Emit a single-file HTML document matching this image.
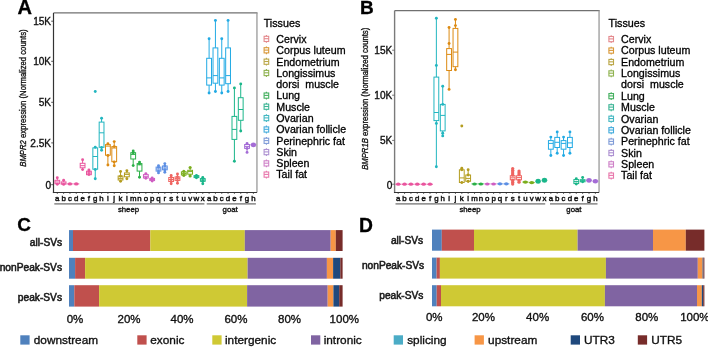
<!DOCTYPE html>
<html><head><meta charset="utf-8"><style>
html,body{margin:0;padding:0;background:#fff;width:708px;height:347px;overflow:hidden}
svg{display:block;font-family:"Liberation Sans",sans-serif;will-change:transform}
</style></head><body>
<svg width="708" height="347" viewBox="0 0 708 347" style="font-family:'Liberation Sans',sans-serif">
<rect width="708" height="347" fill="#fff"/>
<text x="17.4" y="13.95" font-size="19.8" text-anchor="start" font-weight="bold" font-style="normal" fill="#000" stroke="#000" stroke-width="0.3" textLength="14.5" lengthAdjust="spacingAndGlyphs" >A</text>
<line x1="53.5" y1="12.95" x2="257.55" y2="12.95" stroke="#707070" stroke-width="1.25"/>
<line x1="256.95" y1="12.95" x2="256.95" y2="192.45" stroke="#999" stroke-width="1.3"/>
<line x1="53.5" y1="12.95" x2="53.5" y2="193.04999999999998" stroke="#333" stroke-width="1.2"/>
<line x1="52.9" y1="192.45" x2="256.95" y2="192.45" stroke="#333" stroke-width="1.1"/>
<line x1="51.2" y1="21.2" x2="53.6" y2="21.2" stroke="#333" stroke-width="0.8"/>
<text x="51.1" y="24.95" font-size="10.1" text-anchor="end" font-weight="normal" font-style="normal" fill="#111" stroke="#111" stroke-width="0.35" >15K</text>
<line x1="51.2" y1="61.3" x2="53.6" y2="61.3" stroke="#333" stroke-width="0.8"/>
<text x="51.1" y="65.15" font-size="10.1" text-anchor="end" font-weight="normal" font-style="normal" fill="#111" stroke="#111" stroke-width="0.35" >10K</text>
<line x1="51.2" y1="102.3" x2="53.6" y2="102.3" stroke="#333" stroke-width="0.8"/>
<text x="51.1" y="106.45" font-size="10.1" text-anchor="end" font-weight="normal" font-style="normal" fill="#111" stroke="#111" stroke-width="0.35" >5K</text>
<line x1="51.2" y1="142.9" x2="53.6" y2="142.9" stroke="#333" stroke-width="0.8"/>
<text x="51.1" y="147.15" font-size="10.1" text-anchor="end" font-weight="normal" font-style="normal" fill="#111" stroke="#111" stroke-width="0.35" >2.5K</text>
<line x1="51.2" y1="184.7" x2="53.6" y2="184.7" stroke="#333" stroke-width="0.8"/>
<text x="51.1" y="189.15" font-size="10.1" text-anchor="end" font-weight="normal" font-style="normal" fill="#111" stroke="#111" stroke-width="0.35" >0</text>
<text transform="translate(25.8,98.1) rotate(-90)" font-size="8.3" text-anchor="middle" fill="#111" stroke="#111" stroke-width="0.32" textLength="137.3" lengthAdjust="spacingAndGlyphs"><tspan font-style="italic">BMPR2</tspan> expression (Normalized counts)</text>
<line x1="57.3" y1="177.7" x2="57.3" y2="180.3" stroke="#E9559E" stroke-width="1.0"/>
<line x1="57.3" y1="183.7" x2="57.3" y2="184.3" stroke="#E9559E" stroke-width="1.0"/>
<rect x="54.9" y="180.3" width="4.8" height="3.3999999999999773" fill="#fff" stroke="#E9559E" stroke-width="1.0"/>
<line x1="54.9" y1="182.0" x2="59.699999999999996" y2="182.0" stroke="#E9559E" stroke-width="1.0"/>
<circle cx="57.3" cy="177.7" r="1.45" fill="#E9559E"/>
<circle cx="57.3" cy="184.3" r="1.45" fill="#E9559E"/>
<line x1="63.625" y1="180.3" x2="63.625" y2="181.9" stroke="#E9559E" stroke-width="1.0"/>
<line x1="63.625" y1="184.2" x2="63.625" y2="184.4" stroke="#E9559E" stroke-width="1.0"/>
<rect x="61.225" y="181.9" width="4.8" height="2.299999999999983" fill="#fff" stroke="#E9559E" stroke-width="1.0"/>
<line x1="61.225" y1="183.2" x2="66.025" y2="183.2" stroke="#E9559E" stroke-width="1.0"/>
<circle cx="63.625" cy="180.3" r="1.45" fill="#E9559E"/>
<circle cx="63.625" cy="184.4" r="1.45" fill="#E9559E"/>
<line x1="66.95" y1="183.9" x2="72.95" y2="183.9" stroke="#E9559E" stroke-width="0.9"/>
<ellipse cx="69.95" cy="183.9" rx="2.2" ry="1.6" fill="#E9559E"/>
<line x1="73.275" y1="183.9" x2="79.275" y2="183.9" stroke="#E9559E" stroke-width="0.9"/>
<ellipse cx="76.275" cy="183.9" rx="2.2" ry="1.6" fill="#E9559E"/>
<line x1="82.6" y1="159.8" x2="82.6" y2="163.3" stroke="#E9559E" stroke-width="1.0"/>
<line x1="82.6" y1="167.8" x2="82.6" y2="169.6" stroke="#E9559E" stroke-width="1.0"/>
<rect x="80.19999999999999" y="163.3" width="4.8" height="4.5" fill="#fff" stroke="#E9559E" stroke-width="1.0"/>
<line x1="80.19999999999999" y1="165.7" x2="85.0" y2="165.7" stroke="#E9559E" stroke-width="1.0"/>
<circle cx="82.6" cy="159.8" r="1.45" fill="#E9559E"/>
<circle cx="82.6" cy="169.6" r="1.45" fill="#E9559E"/>
<line x1="88.925" y1="170.0" x2="88.925" y2="171.2" stroke="#E9559E" stroke-width="1.0"/>
<line x1="88.925" y1="174.7" x2="88.925" y2="175.2" stroke="#E9559E" stroke-width="1.0"/>
<rect x="86.52499999999999" y="171.2" width="4.8" height="3.5" fill="#fff" stroke="#E9559E" stroke-width="1.0"/>
<line x1="86.52499999999999" y1="173.0" x2="91.325" y2="173.0" stroke="#E9559E" stroke-width="1.0"/>
<circle cx="88.925" cy="170" r="1.45" fill="#E9559E"/>
<circle cx="88.925" cy="171.5" r="1.45" fill="#E9559E"/>
<circle cx="88.925" cy="174.5" r="1.45" fill="#E9559E"/>
<line x1="95.25" y1="147.0" x2="95.25" y2="147.9" stroke="#22B6C0" stroke-width="1.0"/>
<line x1="95.25" y1="169.2" x2="95.25" y2="178.7" stroke="#22B6C0" stroke-width="1.0"/>
<rect x="92.85" y="147.9" width="4.8" height="21.299999999999983" fill="#fff" stroke="#22B6C0" stroke-width="1.0"/>
<line x1="92.85" y1="156.5" x2="97.65" y2="156.5" stroke="#22B6C0" stroke-width="1.0"/>
<circle cx="95.25" cy="147.2" r="1.45" fill="#22B6C0"/>
<circle cx="95.25" cy="169.5" r="1.45" fill="#22B6C0"/>
<circle cx="95.25" cy="178.7" r="1.45" fill="#22B6C0"/>
<circle cx="95.25" cy="91.5" r="1.45" fill="#22B6C0"/>
<line x1="101.57499999999999" y1="118.3" x2="101.57499999999999" y2="122.1" stroke="#22B6C0" stroke-width="1.0"/>
<line x1="101.57499999999999" y1="147.3" x2="101.57499999999999" y2="150.5" stroke="#22B6C0" stroke-width="1.0"/>
<rect x="99.17499999999998" y="122.1" width="4.8" height="25.200000000000017" fill="#fff" stroke="#22B6C0" stroke-width="1.0"/>
<line x1="99.17499999999998" y1="132.8" x2="103.975" y2="132.8" stroke="#22B6C0" stroke-width="1.0"/>
<circle cx="101.57499999999999" cy="118.3" r="1.45" fill="#22B6C0"/>
<circle cx="101.57499999999999" cy="147.5" r="1.45" fill="#22B6C0"/>
<circle cx="101.57499999999999" cy="150.3" r="1.45" fill="#22B6C0"/>
<line x1="107.9" y1="143.8" x2="107.9" y2="144.6" stroke="#DC8A12" stroke-width="1.0"/>
<line x1="107.9" y1="155.2" x2="107.9" y2="165.0" stroke="#DC8A12" stroke-width="1.0"/>
<rect x="105.5" y="144.6" width="4.8" height="10.599999999999994" fill="#fff" stroke="#DC8A12" stroke-width="1.0"/>
<line x1="105.5" y1="146.1" x2="110.30000000000001" y2="146.1" stroke="#DC8A12" stroke-width="1.0"/>
<circle cx="107.9" cy="143.8" r="1.45" fill="#DC8A12"/>
<circle cx="107.9" cy="155.5" r="1.45" fill="#DC8A12"/>
<circle cx="107.9" cy="165" r="1.45" fill="#DC8A12"/>
<line x1="114.225" y1="141.6" x2="114.225" y2="146.6" stroke="#DC8A12" stroke-width="1.0"/>
<line x1="114.225" y1="161.7" x2="114.225" y2="165.7" stroke="#DC8A12" stroke-width="1.0"/>
<rect x="111.82499999999999" y="146.6" width="4.8" height="15.099999999999994" fill="#fff" stroke="#DC8A12" stroke-width="1.0"/>
<line x1="111.82499999999999" y1="148.0" x2="116.625" y2="148.0" stroke="#DC8A12" stroke-width="1.0"/>
<circle cx="114.225" cy="141.6" r="1.45" fill="#DC8A12"/>
<circle cx="114.225" cy="146.6" r="1.45" fill="#DC8A12"/>
<circle cx="114.225" cy="162" r="1.45" fill="#DC8A12"/>
<circle cx="114.225" cy="165.7" r="1.45" fill="#DC8A12"/>
<line x1="120.55" y1="171.5" x2="120.55" y2="176.0" stroke="#B49D20" stroke-width="1.0"/>
<line x1="120.55" y1="180.0" x2="120.55" y2="181.3" stroke="#B49D20" stroke-width="1.0"/>
<rect x="118.14999999999999" y="176.0" width="4.8" height="4.0" fill="#fff" stroke="#B49D20" stroke-width="1.0"/>
<line x1="118.14999999999999" y1="178.4" x2="122.95" y2="178.4" stroke="#B49D20" stroke-width="1.0"/>
<circle cx="120.55" cy="171.5" r="1.45" fill="#B49D20"/>
<circle cx="120.55" cy="176.3" r="1.45" fill="#B49D20"/>
<circle cx="120.55" cy="181.2" r="1.45" fill="#B49D20"/>
<line x1="126.875" y1="170.8" x2="126.875" y2="172.9" stroke="#B49D20" stroke-width="1.0"/>
<line x1="126.875" y1="176.8" x2="126.875" y2="178.8" stroke="#B49D20" stroke-width="1.0"/>
<rect x="124.475" y="172.9" width="4.8" height="3.9000000000000057" fill="#fff" stroke="#B49D20" stroke-width="1.0"/>
<line x1="124.475" y1="174.4" x2="129.275" y2="174.4" stroke="#B49D20" stroke-width="1.0"/>
<circle cx="126.875" cy="170.8" r="1.45" fill="#B49D20"/>
<circle cx="126.875" cy="178.8" r="1.45" fill="#B49D20"/>
<line x1="133.2" y1="151.0" x2="133.2" y2="152.7" stroke="#2AAF46" stroke-width="1.0"/>
<line x1="133.2" y1="159.0" x2="133.2" y2="165.6" stroke="#2AAF46" stroke-width="1.0"/>
<rect x="130.79999999999998" y="152.7" width="4.8" height="6.300000000000011" fill="#fff" stroke="#2AAF46" stroke-width="1.0"/>
<line x1="130.79999999999998" y1="154.4" x2="135.6" y2="154.4" stroke="#2AAF46" stroke-width="1.0"/>
<circle cx="133.2" cy="151" r="1.45" fill="#2AAF46"/>
<circle cx="133.2" cy="152.8" r="1.45" fill="#2AAF46"/>
<circle cx="133.2" cy="165.6" r="1.45" fill="#2AAF46"/>
<line x1="139.525" y1="162.1" x2="139.525" y2="163.6" stroke="#2AAF46" stroke-width="1.0"/>
<line x1="139.525" y1="171.1" x2="139.525" y2="177.2" stroke="#2AAF46" stroke-width="1.0"/>
<rect x="137.125" y="163.6" width="4.8" height="7.5" fill="#fff" stroke="#2AAF46" stroke-width="1.0"/>
<line x1="137.125" y1="164.8" x2="141.925" y2="164.8" stroke="#2AAF46" stroke-width="1.0"/>
<circle cx="139.525" cy="162.1" r="1.45" fill="#2AAF46"/>
<circle cx="139.525" cy="163.8" r="1.45" fill="#2AAF46"/>
<circle cx="139.525" cy="177.2" r="1.45" fill="#2AAF46"/>
<line x1="145.85" y1="173.6" x2="145.85" y2="174.6" stroke="#CF5DC2" stroke-width="1.0"/>
<line x1="145.85" y1="178.0" x2="145.85" y2="178.4" stroke="#CF5DC2" stroke-width="1.0"/>
<rect x="143.45" y="174.6" width="4.8" height="3.4000000000000057" fill="#fff" stroke="#CF5DC2" stroke-width="1.0"/>
<line x1="143.45" y1="176.3" x2="148.25" y2="176.3" stroke="#CF5DC2" stroke-width="1.0"/>
<circle cx="145.85" cy="173.6" r="1.45" fill="#CF5DC2"/>
<circle cx="145.85" cy="178.3" r="1.45" fill="#CF5DC2"/>
<line x1="152.175" y1="177.9" x2="152.175" y2="178.4" stroke="#CF5DC2" stroke-width="1.0"/>
<line x1="152.175" y1="180.6" x2="152.175" y2="181.3" stroke="#CF5DC2" stroke-width="1.0"/>
<rect x="149.775" y="178.4" width="4.8" height="2.1999999999999886" fill="#fff" stroke="#CF5DC2" stroke-width="1.0"/>
<line x1="149.775" y1="179.5" x2="154.57500000000002" y2="179.5" stroke="#CF5DC2" stroke-width="1.0"/>
<circle cx="152.175" cy="177.9" r="1.45" fill="#CF5DC2"/>
<circle cx="152.175" cy="181.1" r="1.45" fill="#CF5DC2"/>
<line x1="158.5" y1="165.6" x2="158.5" y2="167.1" stroke="#5C8FE4" stroke-width="1.0"/>
<line x1="158.5" y1="171.1" x2="158.5" y2="172.9" stroke="#5C8FE4" stroke-width="1.0"/>
<rect x="156.1" y="167.1" width="4.8" height="4.0" fill="#fff" stroke="#5C8FE4" stroke-width="1.0"/>
<line x1="156.1" y1="169.0" x2="160.9" y2="169.0" stroke="#5C8FE4" stroke-width="1.0"/>
<circle cx="158.5" cy="165.6" r="1.45" fill="#5C8FE4"/>
<circle cx="158.5" cy="167.2" r="1.45" fill="#5C8FE4"/>
<circle cx="158.5" cy="171" r="1.45" fill="#5C8FE4"/>
<circle cx="158.5" cy="172.9" r="1.45" fill="#5C8FE4"/>
<line x1="164.825" y1="163.6" x2="164.825" y2="166.0" stroke="#5C8FE4" stroke-width="1.0"/>
<line x1="164.825" y1="169.8" x2="164.825" y2="172.3" stroke="#5C8FE4" stroke-width="1.0"/>
<rect x="162.42499999999998" y="166.0" width="4.8" height="3.8000000000000114" fill="#fff" stroke="#5C8FE4" stroke-width="1.0"/>
<line x1="162.42499999999998" y1="168.0" x2="167.225" y2="168.0" stroke="#5C8FE4" stroke-width="1.0"/>
<circle cx="164.825" cy="163.6" r="1.45" fill="#5C8FE4"/>
<circle cx="164.825" cy="166" r="1.45" fill="#5C8FE4"/>
<circle cx="164.825" cy="169.8" r="1.45" fill="#5C8FE4"/>
<circle cx="164.825" cy="172.3" r="1.45" fill="#5C8FE4"/>
<line x1="171.15" y1="175.5" x2="171.15" y2="177.5" stroke="#EF6460" stroke-width="1.0"/>
<line x1="171.15" y1="181.5" x2="171.15" y2="183.8" stroke="#EF6460" stroke-width="1.0"/>
<rect x="168.75" y="177.5" width="4.8" height="4.0" fill="#fff" stroke="#EF6460" stroke-width="1.0"/>
<line x1="168.75" y1="179.5" x2="173.55" y2="179.5" stroke="#EF6460" stroke-width="1.0"/>
<circle cx="171.15" cy="175.5" r="1.45" fill="#EF6460"/>
<circle cx="171.15" cy="177.5" r="1.45" fill="#EF6460"/>
<circle cx="171.15" cy="181.5" r="1.45" fill="#EF6460"/>
<circle cx="171.15" cy="183.8" r="1.45" fill="#EF6460"/>
<line x1="177.475" y1="174.0" x2="177.475" y2="176.9" stroke="#EF6460" stroke-width="1.0"/>
<line x1="177.475" y1="180.4" x2="177.475" y2="183.2" stroke="#EF6460" stroke-width="1.0"/>
<rect x="175.075" y="176.9" width="4.8" height="3.5" fill="#fff" stroke="#EF6460" stroke-width="1.0"/>
<line x1="175.075" y1="178.6" x2="179.875" y2="178.6" stroke="#EF6460" stroke-width="1.0"/>
<circle cx="177.475" cy="174" r="1.45" fill="#EF6460"/>
<circle cx="177.475" cy="176.9" r="1.45" fill="#EF6460"/>
<circle cx="177.475" cy="180.4" r="1.45" fill="#EF6460"/>
<circle cx="177.475" cy="183.2" r="1.45" fill="#EF6460"/>
<line x1="183.8" y1="171.0" x2="183.8" y2="171.8" stroke="#7BAD1C" stroke-width="1.0"/>
<line x1="183.8" y1="175.0" x2="183.8" y2="175.6" stroke="#7BAD1C" stroke-width="1.0"/>
<rect x="181.4" y="171.8" width="4.8" height="3.1999999999999886" fill="#fff" stroke="#7BAD1C" stroke-width="1.0"/>
<line x1="181.4" y1="173.4" x2="186.20000000000002" y2="173.4" stroke="#7BAD1C" stroke-width="1.0"/>
<circle cx="183.8" cy="171.3" r="1.6" fill="#7BAD1C"/>
<circle cx="183.8" cy="175.3" r="1.6" fill="#7BAD1C"/>
<line x1="190.125" y1="167.5" x2="190.125" y2="170.3" stroke="#7BAD1C" stroke-width="1.0"/>
<line x1="190.125" y1="174.2" x2="190.125" y2="175.9" stroke="#7BAD1C" stroke-width="1.0"/>
<rect x="187.725" y="170.3" width="4.8" height="3.8999999999999773" fill="#fff" stroke="#7BAD1C" stroke-width="1.0"/>
<line x1="187.725" y1="171.6" x2="192.525" y2="171.6" stroke="#7BAD1C" stroke-width="1.0"/>
<circle cx="190.125" cy="167.5" r="1.6" fill="#7BAD1C"/>
<circle cx="190.125" cy="175.9" r="1.6" fill="#7BAD1C"/>
<line x1="196.45" y1="175.2" x2="196.45" y2="175.6" stroke="#1AB68A" stroke-width="1.0"/>
<line x1="196.45" y1="177.6" x2="196.45" y2="178.0" stroke="#1AB68A" stroke-width="1.0"/>
<rect x="194.04999999999998" y="175.6" width="4.8" height="2.0" fill="#fff" stroke="#1AB68A" stroke-width="1.0"/>
<line x1="194.04999999999998" y1="176.6" x2="198.85" y2="176.6" stroke="#1AB68A" stroke-width="1.0"/>
<circle cx="196.45" cy="175.4" r="1.45" fill="#1AB68A"/>
<circle cx="196.45" cy="177.8" r="1.45" fill="#1AB68A"/>
<line x1="202.77499999999998" y1="177.5" x2="202.77499999999998" y2="178.6" stroke="#1AB68A" stroke-width="1.0"/>
<line x1="202.77499999999998" y1="181.3" x2="202.77499999999998" y2="183.8" stroke="#1AB68A" stroke-width="1.0"/>
<rect x="200.37499999999997" y="178.6" width="4.8" height="2.700000000000017" fill="#fff" stroke="#1AB68A" stroke-width="1.0"/>
<line x1="200.37499999999997" y1="180.0" x2="205.17499999999998" y2="180.0" stroke="#1AB68A" stroke-width="1.0"/>
<circle cx="202.77499999999998" cy="177.5" r="1.45" fill="#1AB68A"/>
<circle cx="202.77499999999998" cy="178.6" r="1.45" fill="#1AB68A"/>
<circle cx="202.77499999999998" cy="181.3" r="1.45" fill="#1AB68A"/>
<circle cx="202.77499999999998" cy="183.8" r="1.45" fill="#1AB68A"/>
<line x1="209.10000000000002" y1="38.8" x2="209.10000000000002" y2="58.3" stroke="#22AAE4" stroke-width="1.0"/>
<line x1="209.10000000000002" y1="85.1" x2="209.10000000000002" y2="93.0" stroke="#22AAE4" stroke-width="1.0"/>
<rect x="206.70000000000002" y="58.3" width="4.8" height="26.799999999999997" fill="#fff" stroke="#22AAE4" stroke-width="1.0"/>
<line x1="206.70000000000002" y1="77.9" x2="211.50000000000003" y2="77.9" stroke="#22AAE4" stroke-width="1.0"/>
<circle cx="209.10000000000002" cy="38.8" r="1.45" fill="#22AAE4"/>
<circle cx="209.10000000000002" cy="93.0" r="1.45" fill="#22AAE4"/>
<line x1="215.425" y1="20.4" x2="215.425" y2="47.9" stroke="#22AAE4" stroke-width="1.0"/>
<line x1="215.425" y1="83.2" x2="215.425" y2="91.5" stroke="#22AAE4" stroke-width="1.0"/>
<rect x="213.025" y="47.9" width="4.8" height="35.300000000000004" fill="#fff" stroke="#22AAE4" stroke-width="1.0"/>
<line x1="213.025" y1="75.6" x2="217.82500000000002" y2="75.6" stroke="#22AAE4" stroke-width="1.0"/>
<circle cx="215.425" cy="20.4" r="1.45" fill="#22AAE4"/>
<circle cx="215.425" cy="91.5" r="1.45" fill="#22AAE4"/>
<line x1="221.75" y1="38.8" x2="221.75" y2="58.3" stroke="#22AAE4" stroke-width="1.0"/>
<line x1="221.75" y1="85.1" x2="221.75" y2="93.0" stroke="#22AAE4" stroke-width="1.0"/>
<rect x="219.35" y="58.3" width="4.8" height="26.799999999999997" fill="#fff" stroke="#22AAE4" stroke-width="1.0"/>
<line x1="219.35" y1="77.9" x2="224.15" y2="77.9" stroke="#22AAE4" stroke-width="1.0"/>
<circle cx="221.75" cy="38.8" r="1.45" fill="#22AAE4"/>
<circle cx="221.75" cy="93.0" r="1.45" fill="#22AAE4"/>
<line x1="228.075" y1="20.4" x2="228.075" y2="47.9" stroke="#22AAE4" stroke-width="1.0"/>
<line x1="228.075" y1="83.7" x2="228.075" y2="91.5" stroke="#22AAE4" stroke-width="1.0"/>
<rect x="225.67499999999998" y="47.9" width="4.8" height="35.800000000000004" fill="#fff" stroke="#22AAE4" stroke-width="1.0"/>
<line x1="225.67499999999998" y1="75.6" x2="230.475" y2="75.6" stroke="#22AAE4" stroke-width="1.0"/>
<circle cx="228.075" cy="20.4" r="1.45" fill="#22AAE4"/>
<circle cx="228.075" cy="91.5" r="1.45" fill="#22AAE4"/>
<line x1="234.39999999999998" y1="87.9" x2="234.39999999999998" y2="116.4" stroke="#1AB68A" stroke-width="1.0"/>
<line x1="234.39999999999998" y1="139.4" x2="234.39999999999998" y2="161.3" stroke="#1AB68A" stroke-width="1.0"/>
<rect x="231.99999999999997" y="116.4" width="4.8" height="23.0" fill="#fff" stroke="#1AB68A" stroke-width="1.0"/>
<line x1="231.99999999999997" y1="129.4" x2="236.79999999999998" y2="129.4" stroke="#1AB68A" stroke-width="1.0"/>
<circle cx="234.39999999999998" cy="87.9" r="1.45" fill="#1AB68A"/>
<circle cx="234.39999999999998" cy="161.3" r="1.45" fill="#1AB68A"/>
<line x1="240.72500000000002" y1="83.9" x2="240.72500000000002" y2="97.7" stroke="#1AB68A" stroke-width="1.0"/>
<line x1="240.72500000000002" y1="120.3" x2="240.72500000000002" y2="131.0" stroke="#1AB68A" stroke-width="1.0"/>
<rect x="238.32500000000002" y="97.7" width="4.8" height="22.599999999999994" fill="#fff" stroke="#1AB68A" stroke-width="1.0"/>
<line x1="238.32500000000002" y1="109.5" x2="243.12500000000003" y2="109.5" stroke="#1AB68A" stroke-width="1.0"/>
<circle cx="240.72500000000002" cy="83.9" r="1.45" fill="#1AB68A"/>
<circle cx="240.72500000000002" cy="131" r="1.45" fill="#1AB68A"/>
<line x1="247.05" y1="143.5" x2="247.05" y2="144.5" stroke="#A46CD6" stroke-width="1.0"/>
<line x1="247.05" y1="148.4" x2="247.05" y2="152.4" stroke="#A46CD6" stroke-width="1.0"/>
<rect x="244.65" y="144.5" width="4.8" height="3.9000000000000057" fill="#fff" stroke="#A46CD6" stroke-width="1.0"/>
<line x1="244.65" y1="146.4" x2="249.45000000000002" y2="146.4" stroke="#A46CD6" stroke-width="1.0"/>
<circle cx="247.05" cy="143.5" r="1.45" fill="#A46CD6"/>
<circle cx="247.05" cy="148.4" r="1.45" fill="#A46CD6"/>
<circle cx="247.05" cy="152.4" r="1.45" fill="#A46CD6"/>
<line x1="250.375" y1="144.8" x2="256.375" y2="144.8" stroke="#A46CD6" stroke-width="0.9"/>
<ellipse cx="253.375" cy="144.2" rx="2.5" ry="1.75" fill="#A46CD6"/>
<ellipse cx="253.375" cy="145.6" rx="2.5" ry="1.75" fill="#A46CD6"/>
<line x1="57.3" y1="192.3" x2="57.3" y2="193.9" stroke="#333" stroke-width="0.8"/>
<text x="57.3" y="200.9" font-size="7.9" text-anchor="middle" font-weight="normal" font-style="normal" fill="#111" stroke="#111" stroke-width="0.45" >a</text>
<line x1="63.625" y1="192.3" x2="63.625" y2="193.9" stroke="#333" stroke-width="0.8"/>
<text x="63.62" y="200.9" font-size="7.9" text-anchor="middle" font-weight="normal" font-style="normal" fill="#111" stroke="#111" stroke-width="0.45" >b</text>
<line x1="69.95" y1="192.3" x2="69.95" y2="193.9" stroke="#333" stroke-width="0.8"/>
<text x="69.95" y="200.9" font-size="7.9" text-anchor="middle" font-weight="normal" font-style="normal" fill="#111" stroke="#111" stroke-width="0.45" >c</text>
<line x1="76.275" y1="192.3" x2="76.275" y2="193.9" stroke="#333" stroke-width="0.8"/>
<text x="76.28" y="200.9" font-size="7.9" text-anchor="middle" font-weight="normal" font-style="normal" fill="#111" stroke="#111" stroke-width="0.45" >d</text>
<line x1="82.6" y1="192.3" x2="82.6" y2="193.9" stroke="#333" stroke-width="0.8"/>
<text x="82.6" y="200.9" font-size="7.9" text-anchor="middle" font-weight="normal" font-style="normal" fill="#111" stroke="#111" stroke-width="0.45" >e</text>
<line x1="88.925" y1="192.3" x2="88.925" y2="193.9" stroke="#333" stroke-width="0.8"/>
<text x="88.92" y="200.9" font-size="7.9" text-anchor="middle" font-weight="normal" font-style="normal" fill="#111" stroke="#111" stroke-width="0.45" >f</text>
<line x1="95.25" y1="192.3" x2="95.25" y2="193.9" stroke="#333" stroke-width="0.8"/>
<text x="95.25" y="200.9" font-size="7.9" text-anchor="middle" font-weight="normal" font-style="normal" fill="#111" stroke="#111" stroke-width="0.45" >g</text>
<line x1="101.57499999999999" y1="192.3" x2="101.57499999999999" y2="193.9" stroke="#333" stroke-width="0.8"/>
<text x="101.57" y="200.9" font-size="7.9" text-anchor="middle" font-weight="normal" font-style="normal" fill="#111" stroke="#111" stroke-width="0.45" >h</text>
<line x1="107.9" y1="192.3" x2="107.9" y2="193.9" stroke="#333" stroke-width="0.8"/>
<text x="107.9" y="200.9" font-size="7.9" text-anchor="middle" font-weight="normal" font-style="normal" fill="#111" stroke="#111" stroke-width="0.45" >i</text>
<line x1="114.225" y1="192.3" x2="114.225" y2="193.9" stroke="#333" stroke-width="0.8"/>
<text x="114.22" y="200.9" font-size="7.9" text-anchor="middle" font-weight="normal" font-style="normal" fill="#111" stroke="#111" stroke-width="0.45" >j</text>
<line x1="120.55" y1="192.3" x2="120.55" y2="193.9" stroke="#333" stroke-width="0.8"/>
<text x="120.55" y="200.9" font-size="7.9" text-anchor="middle" font-weight="normal" font-style="normal" fill="#111" stroke="#111" stroke-width="0.45" >k</text>
<line x1="126.875" y1="192.3" x2="126.875" y2="193.9" stroke="#333" stroke-width="0.8"/>
<text x="126.88" y="200.9" font-size="7.9" text-anchor="middle" font-weight="normal" font-style="normal" fill="#111" stroke="#111" stroke-width="0.45" >l</text>
<line x1="133.2" y1="192.3" x2="133.2" y2="193.9" stroke="#333" stroke-width="0.8"/>
<text x="133.2" y="200.9" font-size="7.9" text-anchor="middle" font-weight="normal" font-style="normal" fill="#111" stroke="#111" stroke-width="0.45" >m</text>
<line x1="139.525" y1="192.3" x2="139.525" y2="193.9" stroke="#333" stroke-width="0.8"/>
<text x="139.53" y="200.9" font-size="7.9" text-anchor="middle" font-weight="normal" font-style="normal" fill="#111" stroke="#111" stroke-width="0.45" >n</text>
<line x1="145.85" y1="192.3" x2="145.85" y2="193.9" stroke="#333" stroke-width="0.8"/>
<text x="145.85" y="200.9" font-size="7.9" text-anchor="middle" font-weight="normal" font-style="normal" fill="#111" stroke="#111" stroke-width="0.45" >o</text>
<line x1="152.175" y1="192.3" x2="152.175" y2="193.9" stroke="#333" stroke-width="0.8"/>
<text x="152.18" y="200.9" font-size="7.9" text-anchor="middle" font-weight="normal" font-style="normal" fill="#111" stroke="#111" stroke-width="0.45" >p</text>
<line x1="158.5" y1="192.3" x2="158.5" y2="193.9" stroke="#333" stroke-width="0.8"/>
<text x="158.5" y="200.9" font-size="7.9" text-anchor="middle" font-weight="normal" font-style="normal" fill="#111" stroke="#111" stroke-width="0.45" >q</text>
<line x1="164.825" y1="192.3" x2="164.825" y2="193.9" stroke="#333" stroke-width="0.8"/>
<text x="164.82" y="200.9" font-size="7.9" text-anchor="middle" font-weight="normal" font-style="normal" fill="#111" stroke="#111" stroke-width="0.45" >r</text>
<line x1="171.15" y1="192.3" x2="171.15" y2="193.9" stroke="#333" stroke-width="0.8"/>
<text x="171.15" y="200.9" font-size="7.9" text-anchor="middle" font-weight="normal" font-style="normal" fill="#111" stroke="#111" stroke-width="0.45" >s</text>
<line x1="177.475" y1="192.3" x2="177.475" y2="193.9" stroke="#333" stroke-width="0.8"/>
<text x="177.47" y="200.9" font-size="7.9" text-anchor="middle" font-weight="normal" font-style="normal" fill="#111" stroke="#111" stroke-width="0.45" >t</text>
<line x1="183.8" y1="192.3" x2="183.8" y2="193.9" stroke="#333" stroke-width="0.8"/>
<text x="183.8" y="200.9" font-size="7.9" text-anchor="middle" font-weight="normal" font-style="normal" fill="#111" stroke="#111" stroke-width="0.45" >u</text>
<line x1="190.125" y1="192.3" x2="190.125" y2="193.9" stroke="#333" stroke-width="0.8"/>
<text x="190.12" y="200.9" font-size="7.9" text-anchor="middle" font-weight="normal" font-style="normal" fill="#111" stroke="#111" stroke-width="0.45" >v</text>
<line x1="196.45" y1="192.3" x2="196.45" y2="193.9" stroke="#333" stroke-width="0.8"/>
<text x="196.45" y="200.9" font-size="7.9" text-anchor="middle" font-weight="normal" font-style="normal" fill="#111" stroke="#111" stroke-width="0.45" >w</text>
<line x1="202.77499999999998" y1="192.3" x2="202.77499999999998" y2="193.9" stroke="#333" stroke-width="0.8"/>
<text x="202.77" y="200.9" font-size="7.9" text-anchor="middle" font-weight="normal" font-style="normal" fill="#111" stroke="#111" stroke-width="0.45" >x</text>
<line x1="209.10000000000002" y1="192.3" x2="209.10000000000002" y2="193.9" stroke="#333" stroke-width="0.8"/>
<text x="209.1" y="200.9" font-size="7.9" text-anchor="middle" font-weight="normal" font-style="normal" fill="#111" stroke="#111" stroke-width="0.45" >a</text>
<line x1="215.425" y1="192.3" x2="215.425" y2="193.9" stroke="#333" stroke-width="0.8"/>
<text x="215.43" y="200.9" font-size="7.9" text-anchor="middle" font-weight="normal" font-style="normal" fill="#111" stroke="#111" stroke-width="0.45" >b</text>
<line x1="221.75" y1="192.3" x2="221.75" y2="193.9" stroke="#333" stroke-width="0.8"/>
<text x="221.75" y="200.9" font-size="7.9" text-anchor="middle" font-weight="normal" font-style="normal" fill="#111" stroke="#111" stroke-width="0.45" >c</text>
<line x1="228.075" y1="192.3" x2="228.075" y2="193.9" stroke="#333" stroke-width="0.8"/>
<text x="228.07" y="200.9" font-size="7.9" text-anchor="middle" font-weight="normal" font-style="normal" fill="#111" stroke="#111" stroke-width="0.45" >d</text>
<line x1="234.39999999999998" y1="192.3" x2="234.39999999999998" y2="193.9" stroke="#333" stroke-width="0.8"/>
<text x="234.4" y="200.9" font-size="7.9" text-anchor="middle" font-weight="normal" font-style="normal" fill="#111" stroke="#111" stroke-width="0.45" >e</text>
<line x1="240.72500000000002" y1="192.3" x2="240.72500000000002" y2="193.9" stroke="#333" stroke-width="0.8"/>
<text x="240.73" y="200.9" font-size="7.9" text-anchor="middle" font-weight="normal" font-style="normal" fill="#111" stroke="#111" stroke-width="0.45" >f</text>
<line x1="247.05" y1="192.3" x2="247.05" y2="193.9" stroke="#333" stroke-width="0.8"/>
<text x="247.05" y="200.9" font-size="7.9" text-anchor="middle" font-weight="normal" font-style="normal" fill="#111" stroke="#111" stroke-width="0.45" >g</text>
<line x1="253.375" y1="192.3" x2="253.375" y2="193.9" stroke="#333" stroke-width="0.8"/>
<text x="253.38" y="200.9" font-size="7.9" text-anchor="middle" font-weight="normal" font-style="normal" fill="#111" stroke="#111" stroke-width="0.45" >h</text>
<rect x="54.3" y="203" width="150.10000000000002" height="1.7" fill="#959595"/>
<rect x="206.7" y="203" width="49.20000000000002" height="1.7" fill="#959595"/>
<text x="128.5" y="212.1" font-size="7.8" text-anchor="middle" font-weight="normal" font-style="normal" fill="#111" stroke="#111" stroke-width="0.35" >sheep</text>
<text x="230.2" y="212.1" font-size="7.8" text-anchor="middle" font-weight="normal" font-style="normal" fill="#111" stroke="#111" stroke-width="0.35" >goat</text>
<text x="263.7" y="27.2" font-size="10.7" text-anchor="start" font-weight="normal" font-style="normal" fill="#000" stroke="#000" stroke-width="0.3" textLength="36.6" lengthAdjust="spacingAndGlyphs" >Tissues</text>
<text x="276.3" y="42.7" font-size="10.65" text-anchor="start" font-weight="normal" font-style="normal" fill="#000" stroke="#000" stroke-width="0.3" >Cervix</text>
<line x1="266.4" y1="35.00000000000001" x2="266.4" y2="42.800000000000004" stroke="#E48A8E" stroke-width="1.1"/>
<rect x="264.09999999999997" y="36.300000000000004" width="4.6" height="5.2" fill="#fff" stroke="#E48A8E" stroke-width="1.1"/>
<line x1="264.09999999999997" y1="38.7" x2="268.7" y2="38.7" stroke="#E48A8E" stroke-width="1.1"/>
<text x="276.3" y="54.1" font-size="10.65" text-anchor="start" font-weight="normal" font-style="normal" fill="#000" stroke="#000" stroke-width="0.3" >Corpus luteum</text>
<line x1="266.4" y1="46.400000000000006" x2="266.4" y2="54.2" stroke="#D99838" stroke-width="1.1"/>
<rect x="264.09999999999997" y="47.7" width="4.6" height="5.2" fill="#fff" stroke="#D99838" stroke-width="1.1"/>
<line x1="264.09999999999997" y1="50.1" x2="268.7" y2="50.1" stroke="#D99838" stroke-width="1.1"/>
<text x="276.3" y="65.5" font-size="10.65" text-anchor="start" font-weight="normal" font-style="normal" fill="#000" stroke="#000" stroke-width="0.3" >Endometrium</text>
<line x1="266.4" y1="57.800000000000004" x2="266.4" y2="65.60000000000001" stroke="#BBA748" stroke-width="1.1"/>
<rect x="264.09999999999997" y="59.1" width="4.6" height="5.2" fill="#fff" stroke="#BBA748" stroke-width="1.1"/>
<line x1="264.09999999999997" y1="61.5" x2="268.7" y2="61.5" stroke="#BBA748" stroke-width="1.1"/>
<text x="276.3" y="76.8" font-size="10.65" text-anchor="start" font-weight="normal" font-style="normal" fill="#000" stroke="#000" stroke-width="0.3" >Longissimus</text>
<line x1="266.4" y1="69.1" x2="266.4" y2="76.9" stroke="#90B352" stroke-width="1.1"/>
<rect x="264.09999999999997" y="70.4" width="4.6" height="5.2" fill="#fff" stroke="#90B352" stroke-width="1.1"/>
<line x1="264.09999999999997" y1="72.8" x2="268.7" y2="72.8" stroke="#90B352" stroke-width="1.1"/>
<text x="276.3" y="99.4" font-size="10.65" text-anchor="start" font-weight="normal" font-style="normal" fill="#000" stroke="#000" stroke-width="0.3" >Lung</text>
<line x1="266.4" y1="91.7" x2="266.4" y2="99.50000000000001" stroke="#46B060" stroke-width="1.1"/>
<rect x="264.09999999999997" y="93.00000000000001" width="4.6" height="5.2" fill="#fff" stroke="#46B060" stroke-width="1.1"/>
<line x1="264.09999999999997" y1="95.4" x2="268.7" y2="95.4" stroke="#46B060" stroke-width="1.1"/>
<text x="276.3" y="110.5" font-size="10.65" text-anchor="start" font-weight="normal" font-style="normal" fill="#000" stroke="#000" stroke-width="0.3" >Muscle</text>
<line x1="266.4" y1="102.8" x2="266.4" y2="110.60000000000001" stroke="#3EB596" stroke-width="1.1"/>
<rect x="264.09999999999997" y="104.10000000000001" width="4.6" height="5.2" fill="#fff" stroke="#3EB596" stroke-width="1.1"/>
<line x1="264.09999999999997" y1="106.5" x2="268.7" y2="106.5" stroke="#3EB596" stroke-width="1.1"/>
<text x="276.3" y="121.9" font-size="10.65" text-anchor="start" font-weight="normal" font-style="normal" fill="#000" stroke="#000" stroke-width="0.3" >Ovarian</text>
<line x1="266.4" y1="114.2" x2="266.4" y2="122.00000000000001" stroke="#45B8C2" stroke-width="1.1"/>
<rect x="264.09999999999997" y="115.50000000000001" width="4.6" height="5.2" fill="#fff" stroke="#45B8C2" stroke-width="1.1"/>
<line x1="264.09999999999997" y1="117.9" x2="268.7" y2="117.9" stroke="#45B8C2" stroke-width="1.1"/>
<text x="276.3" y="133.3" font-size="10.65" text-anchor="start" font-weight="normal" font-style="normal" fill="#000" stroke="#000" stroke-width="0.3" >Ovarian follicle</text>
<line x1="266.4" y1="125.6" x2="266.4" y2="133.4" stroke="#44ACDC" stroke-width="1.1"/>
<rect x="264.09999999999997" y="126.9" width="4.6" height="5.2" fill="#fff" stroke="#44ACDC" stroke-width="1.1"/>
<line x1="264.09999999999997" y1="129.3" x2="268.7" y2="129.3" stroke="#44ACDC" stroke-width="1.1"/>
<text x="276.3" y="144.6" font-size="10.65" text-anchor="start" font-weight="normal" font-style="normal" fill="#000" stroke="#000" stroke-width="0.3" >Perinephric fat</text>
<line x1="266.4" y1="136.89999999999998" x2="266.4" y2="144.7" stroke="#809CD8" stroke-width="1.1"/>
<rect x="264.09999999999997" y="138.2" width="4.6" height="5.2" fill="#fff" stroke="#809CD8" stroke-width="1.1"/>
<line x1="264.09999999999997" y1="140.6" x2="268.7" y2="140.6" stroke="#809CD8" stroke-width="1.1"/>
<text x="276.3" y="155.9" font-size="10.65" text-anchor="start" font-weight="normal" font-style="normal" fill="#000" stroke="#000" stroke-width="0.3" >Skin</text>
<line x1="266.4" y1="148.2" x2="266.4" y2="156.0" stroke="#AE92D2" stroke-width="1.1"/>
<rect x="264.09999999999997" y="149.5" width="4.6" height="5.2" fill="#fff" stroke="#AE92D2" stroke-width="1.1"/>
<line x1="264.09999999999997" y1="151.9" x2="268.7" y2="151.9" stroke="#AE92D2" stroke-width="1.1"/>
<text x="276.3" y="167.2" font-size="10.65" text-anchor="start" font-weight="normal" font-style="normal" fill="#000" stroke="#000" stroke-width="0.3" >Spleen</text>
<line x1="266.4" y1="159.49999999999997" x2="266.4" y2="167.29999999999998" stroke="#CF82C8" stroke-width="1.1"/>
<rect x="264.09999999999997" y="160.79999999999998" width="4.6" height="5.2" fill="#fff" stroke="#CF82C8" stroke-width="1.1"/>
<line x1="264.09999999999997" y1="163.2" x2="268.7" y2="163.2" stroke="#CF82C8" stroke-width="1.1"/>
<text x="276.3" y="178.4" font-size="10.65" text-anchor="start" font-weight="normal" font-style="normal" fill="#000" stroke="#000" stroke-width="0.3" >Tail fat</text>
<line x1="266.4" y1="170.7" x2="266.4" y2="178.5" stroke="#E878AC" stroke-width="1.1"/>
<rect x="264.09999999999997" y="172.0" width="4.6" height="5.2" fill="#fff" stroke="#E878AC" stroke-width="1.1"/>
<line x1="264.09999999999997" y1="174.4" x2="268.7" y2="174.4" stroke="#E878AC" stroke-width="1.1"/>
<text x="276.3" y="87.9" font-size="10.65" text-anchor="start" font-weight="normal" font-style="normal" fill="#000" stroke="#000" stroke-width="0.3" >dorsi&#160; muscle</text>
<text x="359.9" y="13.6" font-size="19" text-anchor="start" font-weight="bold" font-style="normal" fill="#000" stroke="#000" stroke-width="0.3" >B</text>
<line x1="394.6" y1="10.6" x2="599.65" y2="10.6" stroke="#707070" stroke-width="1.25"/>
<line x1="599.05" y1="10.6" x2="599.05" y2="192.45" stroke="#999" stroke-width="1.3"/>
<line x1="394.6" y1="10.6" x2="394.6" y2="193.04999999999998" stroke="#7a7a7a" stroke-width="1.4"/>
<line x1="394.0" y1="192.45" x2="599.05" y2="192.45" stroke="#333" stroke-width="1.1"/>
<line x1="392.1" y1="50.2" x2="394.5" y2="50.2" stroke="#555" stroke-width="0.8"/>
<text x="392.3" y="53.95" font-size="10.1" text-anchor="end" font-weight="normal" font-style="normal" fill="#111" stroke="#111" stroke-width="0.35" >15K</text>
<line x1="392.1" y1="95.2" x2="394.5" y2="95.2" stroke="#555" stroke-width="0.8"/>
<text x="392.3" y="98.95" font-size="10.1" text-anchor="end" font-weight="normal" font-style="normal" fill="#111" stroke="#111" stroke-width="0.35" >10K</text>
<line x1="392.1" y1="140.4" x2="394.5" y2="140.4" stroke="#555" stroke-width="0.8"/>
<text x="392.3" y="144.15" font-size="10.1" text-anchor="end" font-weight="normal" font-style="normal" fill="#111" stroke="#111" stroke-width="0.35" >5K</text>
<line x1="392.1" y1="184.2" x2="394.5" y2="184.2" stroke="#555" stroke-width="0.8"/>
<text x="392.3" y="188.65" font-size="10.1" text-anchor="end" font-weight="normal" font-style="normal" fill="#111" stroke="#111" stroke-width="0.35" >0</text>
<text transform="translate(368.2,98.8) rotate(-90)" font-size="8.2" text-anchor="middle" fill="#111" stroke="#111" stroke-width="0.32" textLength="142.1" lengthAdjust="spacingAndGlyphs"><tspan font-style="italic">BMPR1B</tspan> expression (Normalized counts)</text>
<line x1="395.2" y1="184.2" x2="401.2" y2="184.2" stroke="#E9559E" stroke-width="0.9"/>
<ellipse cx="398.2" cy="184.2" rx="2.2" ry="1.6" fill="#E9559E"/>
<line x1="401.56" y1="184.2" x2="407.56" y2="184.2" stroke="#E9559E" stroke-width="0.9"/>
<ellipse cx="404.56" cy="184.2" rx="2.2" ry="1.6" fill="#E9559E"/>
<line x1="407.92" y1="184.2" x2="413.92" y2="184.2" stroke="#E9559E" stroke-width="0.9"/>
<ellipse cx="410.92" cy="184.2" rx="2.2" ry="1.6" fill="#E9559E"/>
<line x1="414.28" y1="184.2" x2="420.28" y2="184.2" stroke="#E9559E" stroke-width="0.9"/>
<ellipse cx="417.28" cy="184.2" rx="2.2" ry="1.6" fill="#E9559E"/>
<line x1="420.64" y1="184.2" x2="426.64" y2="184.2" stroke="#E9559E" stroke-width="0.9"/>
<ellipse cx="423.64" cy="184.2" rx="2.2" ry="1.6" fill="#E9559E"/>
<line x1="427.0" y1="184.2" x2="433.0" y2="184.2" stroke="#E9559E" stroke-width="0.9"/>
<ellipse cx="430.0" cy="184.2" rx="2.2" ry="1.6" fill="#E9559E"/>
<line x1="436.36" y1="18.3" x2="436.36" y2="77.1" stroke="#22B6C0" stroke-width="1.0"/>
<line x1="436.36" y1="120.6" x2="436.36" y2="166.7" stroke="#22B6C0" stroke-width="1.0"/>
<rect x="433.96000000000004" y="77.1" width="4.8" height="43.5" fill="#fff" stroke="#22B6C0" stroke-width="1.0"/>
<line x1="433.96000000000004" y1="112.5" x2="438.76" y2="112.5" stroke="#22B6C0" stroke-width="1.0"/>
<circle cx="436.36" cy="18.3" r="1.45" fill="#22B6C0"/>
<circle cx="436.36" cy="65.4" r="1.45" fill="#22B6C0"/>
<circle cx="436.36" cy="123.4" r="1.45" fill="#22B6C0"/>
<circle cx="436.36" cy="166.7" r="1.45" fill="#22B6C0"/>
<line x1="442.71999999999997" y1="86.3" x2="442.71999999999997" y2="104.4" stroke="#22B6C0" stroke-width="1.0"/>
<line x1="442.71999999999997" y1="130.9" x2="442.71999999999997" y2="135.9" stroke="#22B6C0" stroke-width="1.0"/>
<rect x="440.32" y="104.4" width="4.8" height="26.5" fill="#fff" stroke="#22B6C0" stroke-width="1.0"/>
<line x1="440.32" y1="115.4" x2="445.11999999999995" y2="115.4" stroke="#22B6C0" stroke-width="1.0"/>
<circle cx="442.71999999999997" cy="86.3" r="1.45" fill="#22B6C0"/>
<circle cx="442.71999999999997" cy="104.4" r="1.45" fill="#22B6C0"/>
<circle cx="442.71999999999997" cy="133.2" r="1.45" fill="#22B6C0"/>
<circle cx="442.71999999999997" cy="135.9" r="1.45" fill="#22B6C0"/>
<line x1="449.08" y1="27.5" x2="449.08" y2="48.6" stroke="#DC8A12" stroke-width="1.0"/>
<line x1="449.08" y1="70.5" x2="449.08" y2="89.4" stroke="#DC8A12" stroke-width="1.0"/>
<rect x="446.68" y="48.6" width="4.8" height="21.9" fill="#fff" stroke="#DC8A12" stroke-width="1.0"/>
<line x1="446.68" y1="54.4" x2="451.47999999999996" y2="54.4" stroke="#DC8A12" stroke-width="1.0"/>
<circle cx="449.08" cy="27.5" r="1.45" fill="#DC8A12"/>
<circle cx="449.08" cy="43.5" r="1.45" fill="#DC8A12"/>
<circle cx="449.08" cy="89.4" r="1.45" fill="#DC8A12"/>
<line x1="455.44" y1="19.5" x2="455.44" y2="28.4" stroke="#DC8A12" stroke-width="1.0"/>
<line x1="455.44" y1="66.7" x2="455.44" y2="69.7" stroke="#DC8A12" stroke-width="1.0"/>
<rect x="453.04" y="28.4" width="4.8" height="38.300000000000004" fill="#fff" stroke="#DC8A12" stroke-width="1.0"/>
<line x1="453.04" y1="52.1" x2="457.84" y2="52.1" stroke="#DC8A12" stroke-width="1.0"/>
<circle cx="455.44" cy="19.5" r="1.45" fill="#DC8A12"/>
<circle cx="455.44" cy="25.6" r="1.45" fill="#DC8A12"/>
<circle cx="455.44" cy="69.7" r="1.45" fill="#DC8A12"/>
<line x1="461.8" y1="168.3" x2="461.8" y2="169.8" stroke="#B49D20" stroke-width="1.0"/>
<line x1="461.8" y1="182.5" x2="461.8" y2="183.5" stroke="#B49D20" stroke-width="1.0"/>
<rect x="459.40000000000003" y="169.8" width="4.8" height="12.699999999999989" fill="#fff" stroke="#B49D20" stroke-width="1.0"/>
<line x1="459.40000000000003" y1="177.9" x2="464.2" y2="177.9" stroke="#B49D20" stroke-width="1.0"/>
<circle cx="461.8" cy="168.3" r="1.45" fill="#B49D20"/>
<circle cx="461.8" cy="169.8" r="1.45" fill="#B49D20"/>
<circle cx="461.8" cy="182.5" r="1.45" fill="#B49D20"/>
<circle cx="461.8" cy="126.0" r="1.45" fill="#B49D20"/>
<line x1="468.15999999999997" y1="169.8" x2="468.15999999999997" y2="175.0" stroke="#B49D20" stroke-width="1.0"/>
<line x1="468.15999999999997" y1="181.3" x2="468.15999999999997" y2="183.0" stroke="#B49D20" stroke-width="1.0"/>
<rect x="465.76" y="175.0" width="4.8" height="6.300000000000011" fill="#fff" stroke="#B49D20" stroke-width="1.0"/>
<line x1="465.76" y1="178.4" x2="470.55999999999995" y2="178.4" stroke="#B49D20" stroke-width="1.0"/>
<circle cx="468.15999999999997" cy="169.8" r="1.45" fill="#B49D20"/>
<circle cx="468.15999999999997" cy="175" r="1.45" fill="#B49D20"/>
<circle cx="468.15999999999997" cy="181.3" r="1.45" fill="#B49D20"/>
<line x1="471.52" y1="183.9" x2="477.52" y2="183.9" stroke="#2AAF46" stroke-width="0.9"/>
<ellipse cx="474.52" cy="184" rx="2.2" ry="1.6" fill="#2AAF46"/>
<line x1="477.88" y1="183.9" x2="483.88" y2="183.9" stroke="#2AAF46" stroke-width="0.9"/>
<ellipse cx="480.88" cy="184" rx="2.2" ry="1.6" fill="#2AAF46"/>
<line x1="484.24" y1="183.9" x2="490.24" y2="183.9" stroke="#CF5DC2" stroke-width="0.9"/>
<ellipse cx="487.24" cy="184" rx="2.2" ry="1.6" fill="#CF5DC2"/>
<line x1="490.6" y1="183.9" x2="496.6" y2="183.9" stroke="#CF5DC2" stroke-width="0.9"/>
<ellipse cx="493.6" cy="184" rx="2.2" ry="1.6" fill="#CF5DC2"/>
<line x1="496.96" y1="183.9" x2="502.96" y2="183.9" stroke="#5C8FE4" stroke-width="0.9"/>
<ellipse cx="499.96" cy="183.8" rx="2.2" ry="1.6" fill="#5C8FE4"/>
<line x1="503.32" y1="183.9" x2="509.32" y2="183.9" stroke="#5C8FE4" stroke-width="0.9"/>
<ellipse cx="506.32" cy="183.8" rx="2.2" ry="1.6" fill="#5C8FE4"/>
<line x1="512.68" y1="168.6" x2="512.68" y2="175.7" stroke="#EF6460" stroke-width="1.0"/>
<line x1="512.68" y1="179.8" x2="512.68" y2="184.4" stroke="#EF6460" stroke-width="1.0"/>
<rect x="510.28" y="175.7" width="4.8" height="4.100000000000023" fill="#fff" stroke="#EF6460" stroke-width="1.0"/>
<line x1="510.28" y1="177.8" x2="515.0799999999999" y2="177.8" stroke="#EF6460" stroke-width="1.0"/>
<circle cx="512.68" cy="168.6" r="1.65" fill="#EF6460"/>
<circle cx="512.68" cy="170.3" r="1.65" fill="#EF6460"/>
<circle cx="512.68" cy="172.0" r="1.65" fill="#EF6460"/>
<circle cx="512.68" cy="173.7" r="1.65" fill="#EF6460"/>
<circle cx="512.68" cy="175.2" r="1.65" fill="#EF6460"/>
<circle cx="512.68" cy="180.4" r="1.65" fill="#EF6460"/>
<circle cx="512.68" cy="182.2" r="1.65" fill="#EF6460"/>
<circle cx="512.68" cy="184.0" r="1.65" fill="#EF6460"/>
<line x1="519.04" y1="171.1" x2="519.04" y2="175.7" stroke="#EF6460" stroke-width="1.0"/>
<line x1="519.04" y1="179.8" x2="519.04" y2="182.4" stroke="#EF6460" stroke-width="1.0"/>
<rect x="516.64" y="175.7" width="4.8" height="4.100000000000023" fill="#fff" stroke="#EF6460" stroke-width="1.0"/>
<line x1="516.64" y1="177.6" x2="521.4399999999999" y2="177.6" stroke="#EF6460" stroke-width="1.0"/>
<circle cx="519.04" cy="171.1" r="1.65" fill="#EF6460"/>
<circle cx="519.04" cy="172.8" r="1.65" fill="#EF6460"/>
<circle cx="519.04" cy="174.5" r="1.65" fill="#EF6460"/>
<circle cx="519.04" cy="180.5" r="1.65" fill="#EF6460"/>
<circle cx="519.04" cy="182.2" r="1.65" fill="#EF6460"/>
<line x1="522.4" y1="182.1" x2="528.4" y2="182.1" stroke="#7BAD1C" stroke-width="0.9"/>
<ellipse cx="525.4" cy="182.1" rx="2.5" ry="1.7" fill="#7BAD1C"/>
<line x1="528.76" y1="182.6" x2="534.76" y2="182.6" stroke="#7BAD1C" stroke-width="0.9"/>
<ellipse cx="531.76" cy="182.6" rx="2.5" ry="1.7" fill="#7BAD1C"/>
<line x1="535.12" y1="181.3" x2="541.12" y2="181.3" stroke="#1AB68A" stroke-width="0.9"/>
<ellipse cx="538.12" cy="180.5" rx="2.6" ry="1.75" fill="#1AB68A"/>
<ellipse cx="538.12" cy="182.1" rx="2.6" ry="1.75" fill="#1AB68A"/>
<line x1="541.48" y1="180.3" x2="547.48" y2="180.3" stroke="#1AB68A" stroke-width="0.9"/>
<ellipse cx="544.48" cy="179.5" rx="2.6" ry="1.75" fill="#1AB68A"/>
<ellipse cx="544.48" cy="181.1" rx="2.6" ry="1.75" fill="#1AB68A"/>
<line x1="550.84" y1="137.1" x2="550.84" y2="140.6" stroke="#22AAE4" stroke-width="1.0"/>
<line x1="550.84" y1="149.2" x2="550.84" y2="155.5" stroke="#22AAE4" stroke-width="1.0"/>
<rect x="548.44" y="140.6" width="4.8" height="8.599999999999994" fill="#fff" stroke="#22AAE4" stroke-width="1.0"/>
<line x1="548.44" y1="143.4" x2="553.24" y2="143.4" stroke="#22AAE4" stroke-width="1.0"/>
<circle cx="550.84" cy="137.1" r="1.45" fill="#22AAE4"/>
<circle cx="550.84" cy="155.5" r="1.45" fill="#22AAE4"/>
<line x1="557.2" y1="131.9" x2="557.2" y2="137.4" stroke="#22AAE4" stroke-width="1.0"/>
<line x1="557.2" y1="147.5" x2="557.2" y2="153.2" stroke="#22AAE4" stroke-width="1.0"/>
<rect x="554.8000000000001" y="137.4" width="4.8" height="10.099999999999994" fill="#fff" stroke="#22AAE4" stroke-width="1.0"/>
<line x1="554.8000000000001" y1="142.3" x2="559.6" y2="142.3" stroke="#22AAE4" stroke-width="1.0"/>
<circle cx="557.2" cy="131.9" r="1.45" fill="#22AAE4"/>
<circle cx="557.2" cy="153.2" r="1.45" fill="#22AAE4"/>
<line x1="563.56" y1="137.1" x2="563.56" y2="140.6" stroke="#22AAE4" stroke-width="1.0"/>
<line x1="563.56" y1="149.2" x2="563.56" y2="155.5" stroke="#22AAE4" stroke-width="1.0"/>
<rect x="561.16" y="140.6" width="4.8" height="8.599999999999994" fill="#fff" stroke="#22AAE4" stroke-width="1.0"/>
<line x1="561.16" y1="143.4" x2="565.9599999999999" y2="143.4" stroke="#22AAE4" stroke-width="1.0"/>
<circle cx="563.56" cy="137.1" r="1.45" fill="#22AAE4"/>
<circle cx="563.56" cy="155.5" r="1.45" fill="#22AAE4"/>
<line x1="569.92" y1="131.9" x2="569.92" y2="137.4" stroke="#22AAE4" stroke-width="1.0"/>
<line x1="569.92" y1="147.5" x2="569.92" y2="153.2" stroke="#22AAE4" stroke-width="1.0"/>
<rect x="567.52" y="137.4" width="4.8" height="10.099999999999994" fill="#fff" stroke="#22AAE4" stroke-width="1.0"/>
<line x1="567.52" y1="142.9" x2="572.3199999999999" y2="142.9" stroke="#22AAE4" stroke-width="1.0"/>
<circle cx="569.92" cy="131.9" r="1.45" fill="#22AAE4"/>
<circle cx="569.92" cy="153.2" r="1.45" fill="#22AAE4"/>
<line x1="576.28" y1="178.8" x2="576.28" y2="179.6" stroke="#1AB68A" stroke-width="1.0"/>
<line x1="576.28" y1="183.6" x2="576.28" y2="184.0" stroke="#1AB68A" stroke-width="1.0"/>
<rect x="573.88" y="179.6" width="4.8" height="4.0" fill="#fff" stroke="#1AB68A" stroke-width="1.0"/>
<line x1="573.88" y1="181.6" x2="578.68" y2="181.6" stroke="#1AB68A" stroke-width="1.0"/>
<circle cx="576.28" cy="178.8" r="1.45" fill="#1AB68A"/>
<circle cx="576.28" cy="184" r="1.45" fill="#1AB68A"/>
<line x1="582.64" y1="177.5" x2="582.64" y2="179.7" stroke="#1AB68A" stroke-width="1.0"/>
<line x1="582.64" y1="181.8" x2="582.64" y2="182.0" stroke="#1AB68A" stroke-width="1.0"/>
<rect x="580.24" y="179.7" width="4.8" height="2.1000000000000227" fill="#fff" stroke="#1AB68A" stroke-width="1.0"/>
<line x1="580.24" y1="180.7" x2="585.04" y2="180.7" stroke="#1AB68A" stroke-width="1.0"/>
<circle cx="582.64" cy="177.5" r="1.45" fill="#1AB68A"/>
<circle cx="582.64" cy="181.8" r="1.45" fill="#1AB68A"/>
<line x1="586.0" y1="180.3" x2="592.0" y2="180.3" stroke="#A46CD6" stroke-width="0.9"/>
<ellipse cx="589.0" cy="179.7" rx="2.7" ry="1.75" fill="#A46CD6"/>
<ellipse cx="589.0" cy="180.9" rx="2.7" ry="1.75" fill="#A46CD6"/>
<line x1="592.36" y1="181.2" x2="598.36" y2="181.2" stroke="#A46CD6" stroke-width="0.9"/>
<ellipse cx="595.36" cy="180.6" rx="2.6" ry="1.7" fill="#A46CD6"/>
<ellipse cx="595.36" cy="181.8" rx="2.6" ry="1.7" fill="#A46CD6"/>
<line x1="398.2" y1="192.3" x2="398.2" y2="193.9" stroke="#333" stroke-width="0.8"/>
<text x="398.2" y="200.9" font-size="7.9" text-anchor="middle" font-weight="normal" font-style="normal" fill="#111" stroke="#111" stroke-width="0.45" >a</text>
<line x1="404.56" y1="192.3" x2="404.56" y2="193.9" stroke="#333" stroke-width="0.8"/>
<text x="404.56" y="200.9" font-size="7.9" text-anchor="middle" font-weight="normal" font-style="normal" fill="#111" stroke="#111" stroke-width="0.45" >b</text>
<line x1="410.92" y1="192.3" x2="410.92" y2="193.9" stroke="#333" stroke-width="0.8"/>
<text x="410.92" y="200.9" font-size="7.9" text-anchor="middle" font-weight="normal" font-style="normal" fill="#111" stroke="#111" stroke-width="0.45" >c</text>
<line x1="417.28" y1="192.3" x2="417.28" y2="193.9" stroke="#333" stroke-width="0.8"/>
<text x="417.28" y="200.9" font-size="7.9" text-anchor="middle" font-weight="normal" font-style="normal" fill="#111" stroke="#111" stroke-width="0.45" >d</text>
<line x1="423.64" y1="192.3" x2="423.64" y2="193.9" stroke="#333" stroke-width="0.8"/>
<text x="423.64" y="200.9" font-size="7.9" text-anchor="middle" font-weight="normal" font-style="normal" fill="#111" stroke="#111" stroke-width="0.45" >e</text>
<line x1="430.0" y1="192.3" x2="430.0" y2="193.9" stroke="#333" stroke-width="0.8"/>
<text x="430.0" y="200.9" font-size="7.9" text-anchor="middle" font-weight="normal" font-style="normal" fill="#111" stroke="#111" stroke-width="0.45" >f</text>
<line x1="436.36" y1="192.3" x2="436.36" y2="193.9" stroke="#333" stroke-width="0.8"/>
<text x="436.36" y="200.9" font-size="7.9" text-anchor="middle" font-weight="normal" font-style="normal" fill="#111" stroke="#111" stroke-width="0.45" >g</text>
<line x1="442.71999999999997" y1="192.3" x2="442.71999999999997" y2="193.9" stroke="#333" stroke-width="0.8"/>
<text x="442.72" y="200.9" font-size="7.9" text-anchor="middle" font-weight="normal" font-style="normal" fill="#111" stroke="#111" stroke-width="0.45" >h</text>
<line x1="449.08" y1="192.3" x2="449.08" y2="193.9" stroke="#333" stroke-width="0.8"/>
<text x="449.08" y="200.9" font-size="7.9" text-anchor="middle" font-weight="normal" font-style="normal" fill="#111" stroke="#111" stroke-width="0.45" >i</text>
<line x1="455.44" y1="192.3" x2="455.44" y2="193.9" stroke="#333" stroke-width="0.8"/>
<text x="455.44" y="200.9" font-size="7.9" text-anchor="middle" font-weight="normal" font-style="normal" fill="#111" stroke="#111" stroke-width="0.45" >j</text>
<line x1="461.8" y1="192.3" x2="461.8" y2="193.9" stroke="#333" stroke-width="0.8"/>
<text x="461.8" y="200.9" font-size="7.9" text-anchor="middle" font-weight="normal" font-style="normal" fill="#111" stroke="#111" stroke-width="0.45" >k</text>
<line x1="468.15999999999997" y1="192.3" x2="468.15999999999997" y2="193.9" stroke="#333" stroke-width="0.8"/>
<text x="468.16" y="200.9" font-size="7.9" text-anchor="middle" font-weight="normal" font-style="normal" fill="#111" stroke="#111" stroke-width="0.45" >l</text>
<line x1="474.52" y1="192.3" x2="474.52" y2="193.9" stroke="#333" stroke-width="0.8"/>
<text x="474.52" y="200.9" font-size="7.9" text-anchor="middle" font-weight="normal" font-style="normal" fill="#111" stroke="#111" stroke-width="0.45" >m</text>
<line x1="480.88" y1="192.3" x2="480.88" y2="193.9" stroke="#333" stroke-width="0.8"/>
<text x="480.88" y="200.9" font-size="7.9" text-anchor="middle" font-weight="normal" font-style="normal" fill="#111" stroke="#111" stroke-width="0.45" >n</text>
<line x1="487.24" y1="192.3" x2="487.24" y2="193.9" stroke="#333" stroke-width="0.8"/>
<text x="487.24" y="200.9" font-size="7.9" text-anchor="middle" font-weight="normal" font-style="normal" fill="#111" stroke="#111" stroke-width="0.45" >o</text>
<line x1="493.6" y1="192.3" x2="493.6" y2="193.9" stroke="#333" stroke-width="0.8"/>
<text x="493.6" y="200.9" font-size="7.9" text-anchor="middle" font-weight="normal" font-style="normal" fill="#111" stroke="#111" stroke-width="0.45" >p</text>
<line x1="499.96" y1="192.3" x2="499.96" y2="193.9" stroke="#333" stroke-width="0.8"/>
<text x="499.96" y="200.9" font-size="7.9" text-anchor="middle" font-weight="normal" font-style="normal" fill="#111" stroke="#111" stroke-width="0.45" >q</text>
<line x1="506.32" y1="192.3" x2="506.32" y2="193.9" stroke="#333" stroke-width="0.8"/>
<text x="506.32" y="200.9" font-size="7.9" text-anchor="middle" font-weight="normal" font-style="normal" fill="#111" stroke="#111" stroke-width="0.45" >r</text>
<line x1="512.68" y1="192.3" x2="512.68" y2="193.9" stroke="#333" stroke-width="0.8"/>
<text x="512.68" y="200.9" font-size="7.9" text-anchor="middle" font-weight="normal" font-style="normal" fill="#111" stroke="#111" stroke-width="0.45" >s</text>
<line x1="519.04" y1="192.3" x2="519.04" y2="193.9" stroke="#333" stroke-width="0.8"/>
<text x="519.04" y="200.9" font-size="7.9" text-anchor="middle" font-weight="normal" font-style="normal" fill="#111" stroke="#111" stroke-width="0.45" >t</text>
<line x1="525.4" y1="192.3" x2="525.4" y2="193.9" stroke="#333" stroke-width="0.8"/>
<text x="525.4" y="200.9" font-size="7.9" text-anchor="middle" font-weight="normal" font-style="normal" fill="#111" stroke="#111" stroke-width="0.45" >u</text>
<line x1="531.76" y1="192.3" x2="531.76" y2="193.9" stroke="#333" stroke-width="0.8"/>
<text x="531.76" y="200.9" font-size="7.9" text-anchor="middle" font-weight="normal" font-style="normal" fill="#111" stroke="#111" stroke-width="0.45" >v</text>
<line x1="538.12" y1="192.3" x2="538.12" y2="193.9" stroke="#333" stroke-width="0.8"/>
<text x="538.12" y="200.9" font-size="7.9" text-anchor="middle" font-weight="normal" font-style="normal" fill="#111" stroke="#111" stroke-width="0.45" >w</text>
<line x1="544.48" y1="192.3" x2="544.48" y2="193.9" stroke="#333" stroke-width="0.8"/>
<text x="544.48" y="200.9" font-size="7.9" text-anchor="middle" font-weight="normal" font-style="normal" fill="#111" stroke="#111" stroke-width="0.45" >x</text>
<line x1="550.84" y1="192.3" x2="550.84" y2="193.9" stroke="#333" stroke-width="0.8"/>
<text x="550.84" y="200.9" font-size="7.9" text-anchor="middle" font-weight="normal" font-style="normal" fill="#111" stroke="#111" stroke-width="0.45" >a</text>
<line x1="557.2" y1="192.3" x2="557.2" y2="193.9" stroke="#333" stroke-width="0.8"/>
<text x="557.2" y="200.9" font-size="7.9" text-anchor="middle" font-weight="normal" font-style="normal" fill="#111" stroke="#111" stroke-width="0.45" >b</text>
<line x1="563.56" y1="192.3" x2="563.56" y2="193.9" stroke="#333" stroke-width="0.8"/>
<text x="563.56" y="200.9" font-size="7.9" text-anchor="middle" font-weight="normal" font-style="normal" fill="#111" stroke="#111" stroke-width="0.45" >c</text>
<line x1="569.92" y1="192.3" x2="569.92" y2="193.9" stroke="#333" stroke-width="0.8"/>
<text x="569.92" y="200.9" font-size="7.9" text-anchor="middle" font-weight="normal" font-style="normal" fill="#111" stroke="#111" stroke-width="0.45" >d</text>
<line x1="576.28" y1="192.3" x2="576.28" y2="193.9" stroke="#333" stroke-width="0.8"/>
<text x="576.28" y="200.9" font-size="7.9" text-anchor="middle" font-weight="normal" font-style="normal" fill="#111" stroke="#111" stroke-width="0.45" >e</text>
<line x1="582.64" y1="192.3" x2="582.64" y2="193.9" stroke="#333" stroke-width="0.8"/>
<text x="582.64" y="200.9" font-size="7.9" text-anchor="middle" font-weight="normal" font-style="normal" fill="#111" stroke="#111" stroke-width="0.45" >f</text>
<line x1="589.0" y1="192.3" x2="589.0" y2="193.9" stroke="#333" stroke-width="0.8"/>
<text x="589.0" y="200.9" font-size="7.9" text-anchor="middle" font-weight="normal" font-style="normal" fill="#111" stroke="#111" stroke-width="0.45" >g</text>
<line x1="595.36" y1="192.3" x2="595.36" y2="193.9" stroke="#333" stroke-width="0.8"/>
<text x="595.36" y="200.9" font-size="7.9" text-anchor="middle" font-weight="normal" font-style="normal" fill="#111" stroke="#111" stroke-width="0.45" >h</text>
<rect x="395.5" y="203" width="149.70000000000005" height="1.7" fill="#959595"/>
<rect x="550.0" y="203" width="47.5" height="1.7" fill="#959595"/>
<text x="470.0" y="212.1" font-size="7.8" text-anchor="middle" font-weight="normal" font-style="normal" fill="#111" stroke="#111" stroke-width="0.35" >sheep</text>
<text x="573.9" y="212.1" font-size="7.8" text-anchor="middle" font-weight="normal" font-style="normal" fill="#111" stroke="#111" stroke-width="0.35" >goat</text>
<text x="608.5" y="27.2" font-size="10.7" text-anchor="start" font-weight="normal" font-style="normal" fill="#000" stroke="#000" stroke-width="0.3" textLength="36.6" lengthAdjust="spacingAndGlyphs" >Tissues</text>
<text x="621.1" y="42.9" font-size="10.65" text-anchor="start" font-weight="normal" font-style="normal" fill="#000" stroke="#000" stroke-width="0.3" >Cervix</text>
<line x1="611.2" y1="35.2" x2="611.2" y2="43.0" stroke="#E48A8E" stroke-width="1.1"/>
<rect x="608.9000000000001" y="36.5" width="4.6" height="5.2" fill="#fff" stroke="#E48A8E" stroke-width="1.1"/>
<line x1="608.9000000000001" y1="38.9" x2="613.5" y2="38.9" stroke="#E48A8E" stroke-width="1.1"/>
<text x="621.1" y="54.37" font-size="10.65" text-anchor="start" font-weight="normal" font-style="normal" fill="#000" stroke="#000" stroke-width="0.3" >Corpus luteum</text>
<line x1="611.2" y1="46.67" x2="611.2" y2="54.47" stroke="#D99838" stroke-width="1.1"/>
<rect x="608.9000000000001" y="47.97" width="4.6" height="5.2" fill="#fff" stroke="#D99838" stroke-width="1.1"/>
<line x1="608.9000000000001" y1="50.37" x2="613.5" y2="50.37" stroke="#D99838" stroke-width="1.1"/>
<text x="621.1" y="65.83" font-size="10.65" text-anchor="start" font-weight="normal" font-style="normal" fill="#000" stroke="#000" stroke-width="0.3" >Endometrium</text>
<line x1="611.2" y1="58.13" x2="611.2" y2="65.93" stroke="#BBA748" stroke-width="1.1"/>
<rect x="608.9000000000001" y="59.43" width="4.6" height="5.2" fill="#fff" stroke="#BBA748" stroke-width="1.1"/>
<line x1="608.9000000000001" y1="61.83" x2="613.5" y2="61.83" stroke="#BBA748" stroke-width="1.1"/>
<text x="621.1" y="77.2" font-size="10.65" text-anchor="start" font-weight="normal" font-style="normal" fill="#000" stroke="#000" stroke-width="0.3" >Longissimus</text>
<line x1="611.2" y1="69.5" x2="611.2" y2="77.30000000000001" stroke="#90B352" stroke-width="1.1"/>
<rect x="608.9000000000001" y="70.80000000000001" width="4.6" height="5.2" fill="#fff" stroke="#90B352" stroke-width="1.1"/>
<line x1="608.9000000000001" y1="73.2" x2="613.5" y2="73.2" stroke="#90B352" stroke-width="1.1"/>
<text x="621.1" y="99.93" font-size="10.65" text-anchor="start" font-weight="normal" font-style="normal" fill="#000" stroke="#000" stroke-width="0.3" >Lung</text>
<line x1="611.2" y1="92.23" x2="611.2" y2="100.03000000000002" stroke="#46B060" stroke-width="1.1"/>
<rect x="608.9000000000001" y="93.53000000000002" width="4.6" height="5.2" fill="#fff" stroke="#46B060" stroke-width="1.1"/>
<line x1="608.9000000000001" y1="95.93" x2="613.5" y2="95.93" stroke="#46B060" stroke-width="1.1"/>
<text x="621.1" y="111.1" font-size="10.65" text-anchor="start" font-weight="normal" font-style="normal" fill="#000" stroke="#000" stroke-width="0.3" >Muscle</text>
<line x1="611.2" y1="103.39999999999999" x2="611.2" y2="111.2" stroke="#3EB596" stroke-width="1.1"/>
<rect x="608.9000000000001" y="104.7" width="4.6" height="5.2" fill="#fff" stroke="#3EB596" stroke-width="1.1"/>
<line x1="608.9000000000001" y1="107.1" x2="613.5" y2="107.1" stroke="#3EB596" stroke-width="1.1"/>
<text x="621.1" y="122.57" font-size="10.65" text-anchor="start" font-weight="normal" font-style="normal" fill="#000" stroke="#000" stroke-width="0.3" >Ovarian</text>
<line x1="611.2" y1="114.86999999999999" x2="611.2" y2="122.67" stroke="#45B8C2" stroke-width="1.1"/>
<rect x="608.9000000000001" y="116.17" width="4.6" height="5.2" fill="#fff" stroke="#45B8C2" stroke-width="1.1"/>
<line x1="608.9000000000001" y1="118.57" x2="613.5" y2="118.57" stroke="#45B8C2" stroke-width="1.1"/>
<text x="621.1" y="134.03" font-size="10.65" text-anchor="start" font-weight="normal" font-style="normal" fill="#000" stroke="#000" stroke-width="0.3" >Ovarian follicle</text>
<line x1="611.2" y1="126.32999999999998" x2="611.2" y2="134.13" stroke="#44ACDC" stroke-width="1.1"/>
<rect x="608.9000000000001" y="127.63" width="4.6" height="5.2" fill="#fff" stroke="#44ACDC" stroke-width="1.1"/>
<line x1="608.9000000000001" y1="130.03" x2="613.5" y2="130.03" stroke="#44ACDC" stroke-width="1.1"/>
<text x="621.1" y="145.4" font-size="10.65" text-anchor="start" font-weight="normal" font-style="normal" fill="#000" stroke="#000" stroke-width="0.3" >Perinephric fat</text>
<line x1="611.2" y1="137.7" x2="611.2" y2="145.5" stroke="#809CD8" stroke-width="1.1"/>
<rect x="608.9000000000001" y="139.0" width="4.6" height="5.2" fill="#fff" stroke="#809CD8" stroke-width="1.1"/>
<line x1="608.9000000000001" y1="141.4" x2="613.5" y2="141.4" stroke="#809CD8" stroke-width="1.1"/>
<text x="621.1" y="156.77" font-size="10.65" text-anchor="start" font-weight="normal" font-style="normal" fill="#000" stroke="#000" stroke-width="0.3" >Skin</text>
<line x1="611.2" y1="149.07" x2="611.2" y2="156.87" stroke="#AE92D2" stroke-width="1.1"/>
<rect x="608.9000000000001" y="150.37" width="4.6" height="5.2" fill="#fff" stroke="#AE92D2" stroke-width="1.1"/>
<line x1="608.9000000000001" y1="152.77" x2="613.5" y2="152.77" stroke="#AE92D2" stroke-width="1.1"/>
<text x="621.1" y="168.13" font-size="10.65" text-anchor="start" font-weight="normal" font-style="normal" fill="#000" stroke="#000" stroke-width="0.3" >Spleen</text>
<line x1="611.2" y1="160.42999999999998" x2="611.2" y2="168.23" stroke="#CF82C8" stroke-width="1.1"/>
<rect x="608.9000000000001" y="161.73" width="4.6" height="5.2" fill="#fff" stroke="#CF82C8" stroke-width="1.1"/>
<line x1="608.9000000000001" y1="164.13" x2="613.5" y2="164.13" stroke="#CF82C8" stroke-width="1.1"/>
<text x="621.1" y="179.4" font-size="10.65" text-anchor="start" font-weight="normal" font-style="normal" fill="#000" stroke="#000" stroke-width="0.3" >Tail fat</text>
<line x1="611.2" y1="171.7" x2="611.2" y2="179.5" stroke="#E878AC" stroke-width="1.1"/>
<rect x="608.9000000000001" y="173.0" width="4.6" height="5.2" fill="#fff" stroke="#E878AC" stroke-width="1.1"/>
<line x1="608.9000000000001" y1="175.4" x2="613.5" y2="175.4" stroke="#E878AC" stroke-width="1.1"/>
<text x="621.1" y="88.4" font-size="10.65" text-anchor="start" font-weight="normal" font-style="normal" fill="#000" stroke="#000" stroke-width="0.3" >dorsi&#160; muscle</text>
<text x="17.2" y="230.9" font-size="18.9" text-anchor="start" font-weight="bold" font-style="normal" fill="#000" stroke="#000" stroke-width="0.3" >C</text>
<rect x="69.0" y="230.1" width="4.0" height="20.900000000000006" fill="#4F81BD"/>
<rect x="73.0" y="230.1" width="77.30000000000001" height="20.900000000000006" fill="#C0504D"/>
<rect x="150.3" y="230.1" width="94.5" height="20.900000000000006" fill="#CFC934"/>
<rect x="244.8" y="230.1" width="85.89999999999998" height="20.900000000000006" fill="#8064A2"/>
<rect x="330.7" y="230.1" width="5.100000000000023" height="20.900000000000006" fill="#F79646"/>
<rect x="335.8" y="230.1" width="6.800000000000011" height="20.900000000000006" fill="#772C2A"/>
<rect x="69.0" y="257.8" width="6.099999999999994" height="20.899999999999977" fill="#4F81BD"/>
<rect x="75.1" y="257.8" width="10.0" height="20.899999999999977" fill="#C0504D"/>
<rect x="85.1" y="257.8" width="162.5" height="20.899999999999977" fill="#CFC934"/>
<rect x="247.6" y="257.8" width="79.29999999999998" height="20.899999999999977" fill="#8064A2"/>
<rect x="326.9" y="257.8" width="6.2000000000000455" height="20.899999999999977" fill="#F79646"/>
<rect x="333.1" y="257.8" width="7.199999999999989" height="20.899999999999977" fill="#1F497D"/>
<rect x="340.3" y="257.8" width="2.3000000000000114" height="20.899999999999977" fill="#772C2A"/>
<rect x="69.0" y="285.2" width="5.299999999999997" height="21.400000000000034" fill="#4F81BD"/>
<rect x="74.3" y="285.2" width="24.799999999999997" height="21.400000000000034" fill="#C0504D"/>
<rect x="99.1" y="285.2" width="148.0" height="21.400000000000034" fill="#CFC934"/>
<rect x="247.1" y="285.2" width="80.6" height="21.400000000000034" fill="#8064A2"/>
<rect x="327.7" y="285.2" width="5.699999999999989" height="21.400000000000034" fill="#F79646"/>
<rect x="333.4" y="285.2" width="5.800000000000011" height="21.400000000000034" fill="#1F497D"/>
<rect x="339.2" y="285.2" width="3.400000000000034" height="21.400000000000034" fill="#772C2A"/>
<text x="62.1" y="245.7" font-size="10.2" text-anchor="end" font-weight="normal" font-style="normal" fill="#1a1a1a" stroke="#1a1a1a" stroke-width="0.55" >all-SVs</text>
<text x="62.0" y="271.4" font-size="10.2" text-anchor="end" font-weight="normal" font-style="normal" fill="#1a1a1a" stroke="#1a1a1a" stroke-width="0.55" >nonPeak-SVs</text>
<text x="62.0" y="300.6" font-size="10.2" text-anchor="end" font-weight="normal" font-style="normal" fill="#1a1a1a" stroke="#1a1a1a" stroke-width="0.55" >peak-SVs</text>
<text x="66.7" y="323.3" font-size="11.5" text-anchor="start" font-weight="normal" font-style="normal" fill="#111" stroke="#111" stroke-width="0.35" >0%</text>
<text x="117.5" y="323.3" font-size="11.5" text-anchor="start" font-weight="normal" font-style="normal" fill="#111" stroke="#111" stroke-width="0.35" >20%</text>
<text x="170.5" y="323.3" font-size="11.5" text-anchor="start" font-weight="normal" font-style="normal" fill="#111" stroke="#111" stroke-width="0.35" >40%</text>
<text x="224.4" y="323.3" font-size="11.5" text-anchor="start" font-weight="normal" font-style="normal" fill="#111" stroke="#111" stroke-width="0.35" >60%</text>
<text x="278.0" y="323.3" font-size="11.5" text-anchor="start" font-weight="normal" font-style="normal" fill="#111" stroke="#111" stroke-width="0.35" >80%</text>
<text x="329.6" y="323.3" font-size="11.5" text-anchor="start" font-weight="normal" font-style="normal" fill="#111" stroke="#111" stroke-width="0.35" >100%</text>
<text x="359.1" y="231.6" font-size="19.3" text-anchor="start" font-weight="bold" font-style="normal" fill="#000" stroke="#000" stroke-width="0.3" >D</text>
<rect x="432.0" y="229.6" width="9.800000000000011" height="21.099999999999994" fill="#4F81BD"/>
<rect x="441.8" y="229.6" width="32.19999999999999" height="21.099999999999994" fill="#C0504D"/>
<rect x="474.0" y="229.6" width="103.60000000000002" height="21.099999999999994" fill="#CFC934"/>
<rect x="577.6" y="229.6" width="75.39999999999998" height="21.099999999999994" fill="#8064A2"/>
<rect x="653.0" y="229.6" width="32.799999999999955" height="21.099999999999994" fill="#F79646"/>
<rect x="685.8" y="229.6" width="18.600000000000023" height="21.099999999999994" fill="#772C2A"/>
<rect x="432.0" y="257.6" width="4.600000000000023" height="21.0" fill="#4F81BD"/>
<rect x="436.6" y="257.6" width="3.2999999999999545" height="21.0" fill="#C0504D"/>
<rect x="439.9" y="257.6" width="166.0" height="21.0" fill="#CFC934"/>
<rect x="605.9" y="257.6" width="91.89999999999998" height="21.0" fill="#8064A2"/>
<rect x="697.8" y="257.6" width="4.800000000000068" height="21.0" fill="#F79646"/>
<rect x="702.6" y="257.6" width="0.8999999999999773" height="21.0" fill="#1F497D"/>
<rect x="703.5" y="257.6" width="0.8999999999999773" height="21.0" fill="#772C2A"/>
<rect x="432.0" y="285.2" width="4.699999999999989" height="21.100000000000023" fill="#4F81BD"/>
<rect x="436.7" y="285.2" width="4.300000000000011" height="21.100000000000023" fill="#C0504D"/>
<rect x="441.0" y="285.2" width="163.89999999999998" height="21.100000000000023" fill="#CFC934"/>
<rect x="604.9" y="285.2" width="92.10000000000002" height="21.100000000000023" fill="#8064A2"/>
<rect x="697.0" y="285.2" width="4.7999999999999545" height="21.100000000000023" fill="#F79646"/>
<rect x="701.8" y="285.2" width="1.400000000000091" height="21.100000000000023" fill="#1F497D"/>
<rect x="703.2" y="285.2" width="1.1999999999999318" height="21.100000000000023" fill="#772C2A"/>
<text x="423.2" y="243.5" font-size="10.2" text-anchor="end" font-weight="normal" font-style="normal" fill="#1a1a1a" stroke="#1a1a1a" stroke-width="0.55" >all-SVs</text>
<text x="424.2" y="269.1" font-size="10.2" text-anchor="end" font-weight="normal" font-style="normal" fill="#1a1a1a" stroke="#1a1a1a" stroke-width="0.55" >nonPeak-SVs</text>
<text x="423.4" y="298.6" font-size="10.2" text-anchor="end" font-weight="normal" font-style="normal" fill="#1a1a1a" stroke="#1a1a1a" stroke-width="0.55" >peak-SVs</text>
<text x="425.9" y="321.4" font-size="11.5" text-anchor="start" font-weight="normal" font-style="normal" fill="#111" stroke="#111" stroke-width="0.35" >0%</text>
<text x="471.9" y="321.4" font-size="11.5" text-anchor="start" font-weight="normal" font-style="normal" fill="#111" stroke="#111" stroke-width="0.35" >20%</text>
<text x="526.1" y="321.4" font-size="11.5" text-anchor="start" font-weight="normal" font-style="normal" fill="#111" stroke="#111" stroke-width="0.35" >40%</text>
<text x="580.9" y="321.4" font-size="11.5" text-anchor="start" font-weight="normal" font-style="normal" fill="#111" stroke="#111" stroke-width="0.35" >60%</text>
<text x="635.3" y="321.4" font-size="11.5" text-anchor="start" font-weight="normal" font-style="normal" fill="#111" stroke="#111" stroke-width="0.35" >80%</text>
<text x="680.2" y="321.4" font-size="11.5" text-anchor="start" font-weight="normal" font-style="normal" fill="#111" stroke="#111" stroke-width="0.35" >100%</text>
<rect x="20.3" y="335.3" width="9.3" height="9.3" fill="#4F81BD"/>
<text x="33.8" y="344.4" font-size="11.8" text-anchor="start" font-weight="normal" font-style="normal" fill="#111" stroke="#111" stroke-width="0.35" >downstream</text>
<rect x="137.3" y="335.3" width="9.3" height="9.3" fill="#C0504D"/>
<text x="150.3" y="344.4" font-size="11.8" text-anchor="start" font-weight="normal" font-style="normal" fill="#111" stroke="#111" stroke-width="0.35" >exonic</text>
<rect x="212.3" y="335.3" width="9.3" height="9.3" fill="#CFC934"/>
<text x="225.0" y="344.4" font-size="11.8" text-anchor="start" font-weight="normal" font-style="normal" fill="#111" stroke="#111" stroke-width="0.35" >intergenic</text>
<rect x="311.0" y="335.3" width="9.3" height="9.3" fill="#8064A2"/>
<text x="323.7" y="344.4" font-size="11.8" text-anchor="start" font-weight="normal" font-style="normal" fill="#111" stroke="#111" stroke-width="0.35" >intronic</text>
<rect x="393.7" y="335.3" width="9.3" height="9.3" fill="#4BACC6"/>
<text x="407.2" y="344.4" font-size="11.8" text-anchor="start" font-weight="normal" font-style="normal" fill="#111" stroke="#111" stroke-width="0.35" >splicing</text>
<rect x="474.6" y="335.3" width="9.3" height="9.3" fill="#F79646"/>
<text x="488.1" y="344.4" font-size="11.8" text-anchor="start" font-weight="normal" font-style="normal" fill="#111" stroke="#111" stroke-width="0.35" >upstream</text>
<rect x="570.7" y="335.3" width="9.3" height="9.3" fill="#1F497D"/>
<text x="584.0" y="344.4" font-size="11.8" text-anchor="start" font-weight="normal" font-style="normal" fill="#111" stroke="#111" stroke-width="0.35" >UTR3</text>
<rect x="637.8" y="335.3" width="9.3" height="9.3" fill="#772C2A"/>
<text x="651.3" y="344.4" font-size="11.8" text-anchor="start" font-weight="normal" font-style="normal" fill="#111" stroke="#111" stroke-width="0.35" >UTR5</text>
</svg>
</body></html>
